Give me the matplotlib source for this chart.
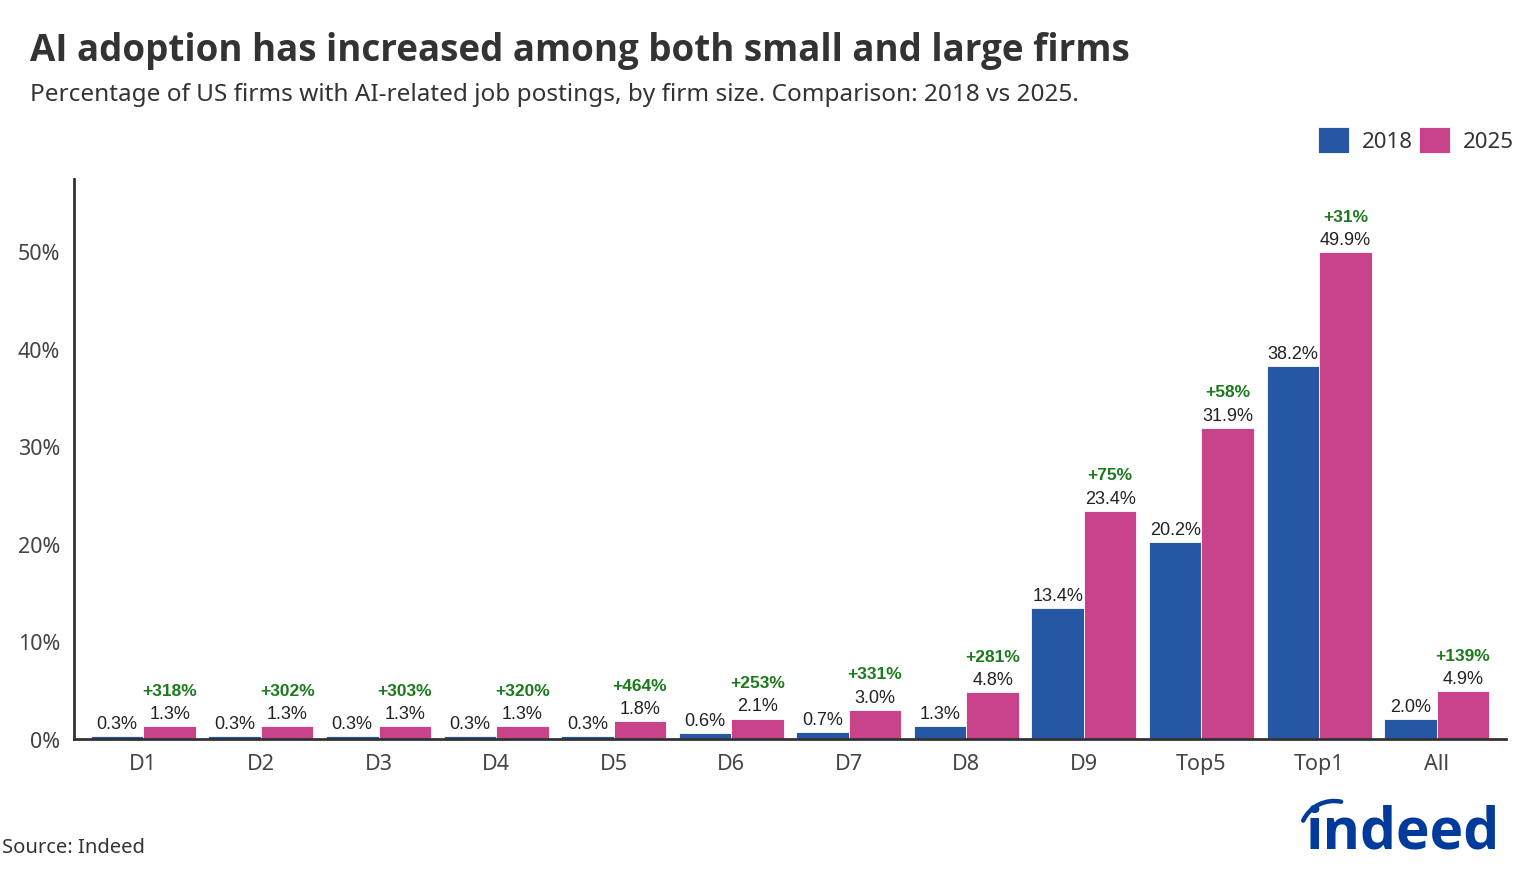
import matplotlib
matplotlib.use("Agg")
import matplotlib.pyplot as plt
from matplotlib.patches import Arc
import numpy as np

categories = ["D1", "D2", "D3", "D4", "D5", "D6", "D7", "D8", "D9", "Top5", "Top1", "All"]
values_2018 = [0.3, 0.3, 0.3, 0.3, 0.3, 0.6, 0.7, 1.3, 13.4, 20.2, 38.2, 2.0]
values_2025 = [1.3, 1.3, 1.3, 1.3, 1.8, 2.1, 3.0, 4.8, 23.4, 31.9, 49.9, 4.9]
pct_change = [318, 302, 303, 320, 464, 253, 331, 281, 75, 58, 31, 139]
yticks = [0, 10, 20, 30, 40, 50]
series_names = ["2018", "2025"]

BLUE = "#2557A4"
PINK = "#C8438A"
GREEN = "#1B7A1B"
DARK = "#333333"

fig = plt.figure(figsize=(15.36, 8.78), dpi=100)
ax = fig.add_axes([74/1536, 1 - 740/878, (1506-74)/1536, (740-180)/878])

x = np.arange(len(categories))
w = 0.447
b1 = ax.bar(x - w/2, values_2018, w, color=BLUE, edgecolor="white", linewidth=0.6, label=series_names[0])
b2 = ax.bar(x + w/2, values_2025, w, color=PINK, edgecolor="white", linewidth=0.6, label=series_names[1])

ax.set_xlim(-0.59, len(categories) - 1 + 0.59)
ax.set_ylim(0, 57.4)
ax.set_yticks(yticks)
ax.set_yticklabels([f"{t}%" for t in yticks], family="Noto Sans", fontsize=15.5, color="#444444")
ax.set_xticks(x)
ax.set_xticklabels(categories, family="Noto Sans", fontsize=15.5, color="#444444")
ax.tick_params(axis="both", length=0)
ax.tick_params(axis="x", pad=10)
ax.tick_params(axis="y", pad=10)
for s in ["top", "right"]:
    ax.spines[s].set_visible(False)
for s in ["left", "bottom"]:
    ax.spines[s].set_color(DARK)
    ax.spines[s].set_linewidth(2)

for xi, v in zip(x, values_2018):
    ax.annotate(f"{v:.1f}%", (xi - w/2, v), xytext=(0, 3), textcoords="offset points",
                ha="center", va="bottom", family="Liberation Sans", fontsize=13, color="#222222")
for xi, v, c in zip(x, values_2025, pct_change):
    ax.annotate(f"{v:.1f}%", (xi + w/2, v), xytext=(0, 3), textcoords="offset points",
                ha="center", va="bottom", family="Liberation Sans", fontsize=13, color="#222222")
    ax.annotate(f"+{c}%", (xi + w/2, v), xytext=(0, 20.5), textcoords="offset points",
                ha="center", va="bottom", family="Liberation Sans", fontsize=12.5,
                fontweight="bold", color=GREEN)

fig.text(30/1536, 1 - 51/878, "AI adoption has increased among both small and large firms",
         family="Open Sans", fontweight="bold", fontsize=26.5, color=DARK, va="center", ha="left")
fig.text(30/1536, 1 - 95/878, "Percentage of US firms with AI-related job postings, by firm size. Comparison: 2018 vs 2025.",
         family="Noto Sans", fontsize=17.5, color=DARK, va="center", ha="left")
fig.text(2/1536, 1 - 848/878, "Source: Indeed", family="Noto Sans", fontsize=14.5, color=DARK,
         va="center", ha="left")

leg = fig.legend(handles=[b1, b2], labels=series_names, loc="center right",
                 bbox_to_anchor=(1523/1536, 1 - 141/878), ncol=2, frameon=False,
                 prop={"family": "Noto Sans", "size": 16}, handlelength=1.4, handleheight=1.4,
                 columnspacing=0.25, handletextpad=0.6, borderaxespad=0)
for t in leg.get_texts():
    t.set_color(DARK)

# indeed logo
LOGO = "#003A9B"
fig.text(1500/1536, 1 - 834/878, "indeed", family="Open Sans", fontweight="bold", fontsize=41,
         color=LOGO, ha="right", va="center")
lax = fig.add_axes([0, 0, 1, 1], facecolor="none")
lax.set_xlim(0, 1536)
lax.set_ylim(878, 0)
lax.axis("off")
lax.add_patch(Arc((1334, 836), 68, 68, theta1=205, theta2=282, color=LOGO, linewidth=3.2,
                  capstyle="round"))

fig.savefig("out.png", dpi=100)
